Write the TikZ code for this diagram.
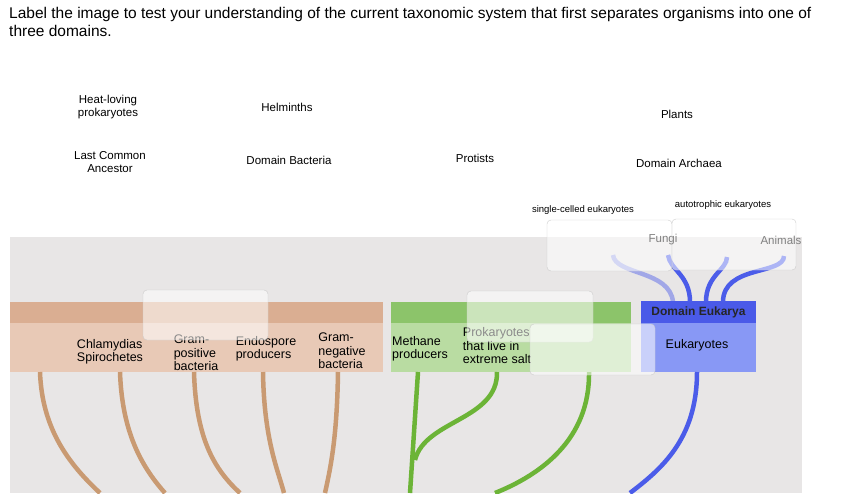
\documentclass[tikz,border=0pt]{standalone}
\usepackage{fontspec}
\setmainfont{Liberation Sans}
\usetikzlibrary{positioning}

\definecolor{panelgray}{HTML}{E8E6E6}
\definecolor{bactdark}{HTML}{DAAE92}
\definecolor{bactlight}{HTML}{E8C9B6}
\definecolor{bactline}{HTML}{C99A72}
\definecolor{archdark}{HTML}{8CC46A}
\definecolor{archlight}{HTML}{B9DCA2}
\definecolor{archline}{HTML}{6CB437}
\definecolor{eukdark}{HTML}{4A5AE8}
\definecolor{euklight}{HTML}{8898F5}
\definecolor{eukline}{HTML}{4B5CE9}

\begin{document}
\begin{tikzpicture}[
    x=1pt, y=-1pt,
    label/.style={font=\fontsize{11.5}{13}\selectfont, align=center},
    small/.style={font=\fontsize{9.5}{10.5}\selectfont, align=center},
    bartext/.style={font=\fontsize{12.5}{13.5}\selectfont, align=left},
    slot/.style={draw=gray!40, fill=white, fill opacity=0.55, rounded corners=4pt},
    bline/.style={line width=4.5pt, bactline},
    aline/.style={line width=4.5pt, archline},
    eline/.style={line width=4.5pt, eukline}
]
\useasboundingbox (0,0) rectangle (852,493);

% question
\node[anchor=north west, align=left, font=\fontsize{15.5}{18}\selectfont, inner sep=0pt] (question) at (9,7)
  {Label the image to test your understanding of the current taxonomic system that first separates organisms into one of\\three domains.};

% word bank
\node[label] (heat) at (108,107) {Heat-loving\\prokaryotes};
\node[label] (helminths) at (287,107) {Helminths};
\node[label] (plants) at (677,114) {Plants};
\node[label] (luca) at (110,162) {Last Common\\Ancestor};
\node[label] (dombact) at (289,160) {Domain Bacteria};
\node[label] (protists) at (475,158) {Protists};
\node[label] (domarch) at (679,163) {Domain Archaea};
\node[small] (single) at (583,210) {single-celled eukaryotes};
\node[small] (autotroph) at (723,205) {autotrophic eukaryotes};

% panel
\fill[panelgray] (10,237) rectangle (802,493);

% domain bars
\fill[bactdark] (10,302) rectangle (383,323);
\fill[bactlight] (10,323) rectangle (383,372);
\fill[archdark] (391,302) rectangle (631,323);
\fill[archlight] (391,323) rectangle (631,372);
\fill[euklight] (641,302) rectangle (756,372);
\node[fill=eukdark, minimum width=115pt, minimum height=22pt, inner sep=0pt,
  font=\fontsize{12}{12}\selectfont\bfseries, text=black!85] (eukarya) at (698.5,312) {Domain Eukarya};

% group labels
\node[bartext] (chlamydias) at (110,352) {Chlamydias\\Spirochetes};
\node[bartext] (grampos) at (196,353) {Gram-\\positive\\bacteria};
\node[bartext] (endospore) at (266,349) {Endospore\\producers};
\node[bartext] (gramneg) at (342,351) {Gram-\\negative\\bacteria};
\node[bartext] (methane) at (420,349) {Methane\\producers};
\node[bartext] (salt) at (497,346) {Prokaryotes\\that live in\\extreme salt};
\node[bartext] (eukaryotes) at (697,345) {Eukaryotes};

% branches
\coordinate (b1) at (100,493); \coordinate (b2) at (165,493);
\coordinate (b3) at (240,493); \coordinate (b4) at (284,493);
\coordinate (b5) at (325,493);
\draw[bline] (40,372) .. controls (42,430) and (70,465) .. (b1);
\draw[bline] (120,372) .. controls (122,430) and (140,465) .. (b2);
\draw[bline] (194,372) .. controls (196,440) and (215,470) .. (b3);
\draw[bline] (263,372) .. controls (264,440) and (278,470) .. (b4);
\draw[bline] (338,372) .. controls (337,440) and (330,470) .. (b5);

\coordinate (a1) at (410,493); \coordinate (amerge) at (415,460);
\coordinate (a3) at (495,493);
\draw[aline] (418,372) -- (a1);
\draw[aline] (497,372) .. controls (498,420) and (425,420) .. (amerge);
\draw[aline] (589,372) .. controls (590,440) and (540,475) .. (a3);

\coordinate (e0) at (630,493);
\draw[eline] (697,372) .. controls (697,440) and (660,470) .. (e0);

\coordinate (fungiend) at (613,255); \coordinate (f2) at (668,255);
\coordinate (f3) at (727,257); \coordinate (f4) at (784,256);
\draw[eline, opacity=0.45] (673,302) .. controls (670,270) and (615,275) .. (fungiend);
\draw[eline] (690,302) .. controls (690,275) and (670,270) .. (f2);
\draw[eline] (706,302) .. controls (706,275) and (727,270) .. (f3);
\draw[eline] (723,302) .. controls (723,265) and (784,275) .. (f4);

% empty label slots
\draw[slot] (143,290) rectangle (268,340);
\draw[slot] (467,291) rectangle (593,342);
\draw[slot] (530,324) rectangle (655,375);
\draw[slot] (547,220) rectangle (672,271);
\draw[slot] (672,219) rectangle (796,270);

\node[label, text=gray] (fungi) at (663,240) {Fungi};
\node[label, text=gray] (animals) at (781,240) {Animals};
\end{tikzpicture}
\end{document}
